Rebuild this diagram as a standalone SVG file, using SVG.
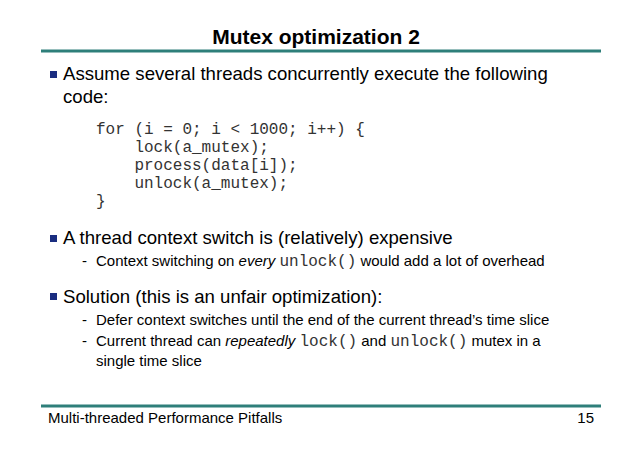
<svg xmlns="http://www.w3.org/2000/svg" width="638" height="451" viewBox="0 0 638 451">
<style>
.s{font-family:"Liberation Sans",Arial,sans-serif;fill:#000}
.b{font-size:18.6px}
.sub{font-size:15px}
.m{font-family:"Liberation Mono","Courier New",monospace;font-size:16px;fill:#333}
.sq{fill:#1a2d80}
</style>
<rect width="638" height="451" fill="#fff"/>
<text class="s" x="316" y="44" font-size="21" font-weight="bold" text-anchor="middle">Mutex optimization 2</text>
<rect x="41" y="49.5" width="560" height="3" fill="#2e7f7a"/>
<rect class="sq" x="50" y="71" width="7" height="7"/>
<text class="s b" x="63" y="80">Assume several threads concurrently execute the following</text>
<text class="s b" x="63" y="103">code:</text>
<text class="m" x="96" y="134">for (i = 0; i &lt; 1000; i++) {</text>
<text class="m" x="96" y="152" xml:space="preserve">    lock(a_mutex);</text>
<text class="m" x="96" y="170" xml:space="preserve">    process(data[i]);</text>
<text class="m" x="96" y="188" xml:space="preserve">    unlock(a_mutex);</text>
<text class="m" x="96" y="206">}</text>
<rect class="sq" x="50" y="235" width="7" height="7"/>
<text class="s b" x="63" y="244">A thread context switch is (relatively) expensive</text>
<text class="s sub" x="82" y="266">-</text>
<text class="s sub" x="96" y="266">Context switching on <tspan font-style="italic">every</tspan> <tspan class="m">unlock()</tspan> would add a lot of overhead</text>
<rect class="sq" x="50" y="293" width="7" height="7"/>
<text class="s b" x="63" y="303">Solution (this is an unfair optimization):</text>
<text class="s sub" x="82" y="325">-</text>
<text class="s sub" x="96" y="325">Defer context switches until the end of the current thread’s time slice</text>
<text class="s sub" x="82" y="346">-</text>
<text class="s sub" x="96" y="346">Current thread can <tspan font-style="italic">repeatedly</tspan> <tspan class="m">lock()</tspan> and <tspan class="m">unlock()</tspan> mutex in a</text>
<text class="s sub" x="96" y="366">single time slice</text>
<rect x="41" y="404.5" width="560" height="3" fill="#2e7f7a"/>
<text class="s" x="48" y="423" font-size="15">Multi-threaded Performance Pitfalls</text>
<text class="s" x="594" y="423" font-size="15" text-anchor="end">15</text>
</svg>
